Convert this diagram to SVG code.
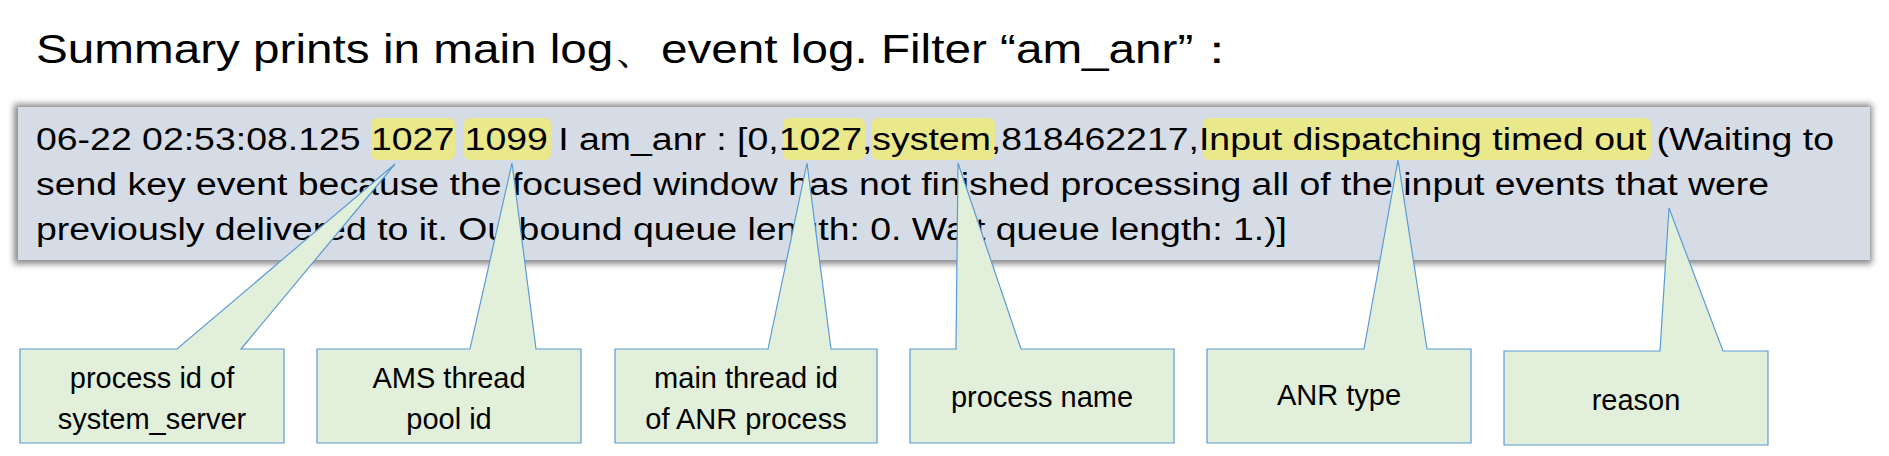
<svg xmlns="http://www.w3.org/2000/svg" width="1889" height="456" viewBox="0 0 1889 456">
<style>
text{font-family:"Liberation Sans",Arial,sans-serif;fill:#000}
.log{font-size:31px}
.lbl{font-size:29px;text-anchor:middle}
.hl{fill:#e9e88a}
.co{fill:#e2efda;stroke:#5b9bd5;stroke-width:1.2}
</style>
<defs><filter id="sh" x="-5%" y="-20%" width="110%" height="140%"><feGaussianBlur stdDeviation="3"/></filter></defs>
<text x="36" y="63" font-size="40" textLength="1205" lengthAdjust="spacingAndGlyphs">Summary prints in main log、event log. Filter “am_anr”：</text>
<g id="logbox">
<rect x="14" y="104" width="1858" height="160" fill="#888" filter="url(#sh)"/>
<rect x="18" y="107" width="1852" height="153" fill="#d6dce5"/>
<rect class="hl" x="371" y="118" width="84" height="42" rx="6"/>
<rect class="hl" x="464" y="118" width="87" height="42" rx="6"/>
<rect class="hl" x="783" y="118" width="82" height="42" rx="6"/>
<rect class="hl" x="872" y="118" width="123" height="42" rx="6"/>
<rect class="hl" x="1203" y="118" width="448" height="42" rx="6"/>
<text class="log" x="36" y="150" textLength="1798" lengthAdjust="spacingAndGlyphs">06-22 02:53:08.125 1027 1099 I am_anr : [0,1027,system,818462217,Input dispatching timed out (Waiting to</text>
<text class="log" x="36" y="195" textLength="1733" lengthAdjust="spacingAndGlyphs">send key event because the focused window has not finished processing all of the input events that were</text>
<text class="log" x="36" y="240" textLength="1251" lengthAdjust="spacingAndGlyphs">previously delivered to it. Outbound queue length: 0. Wait queue length: 1.)]</text>
</g>
<g id="connectors"></g>
<g id="n1"><path class="co" d="M20,349 L177,349 L395,164 L241,349 L284,349 L284,443 L20,443 Z"/>
<text class="lbl" x="152" y="388">process id of</text><text class="lbl" x="152" y="429">system_server</text></g>
<g id="n2"><path class="co" d="M317,349 L470,349 L512,163 L536,349 L581,349 L581,443 L317,443 Z"/>
<text class="lbl" x="449" y="388">AMS thread</text><text class="lbl" x="449" y="429">pool id</text></g>
<g id="n3"><path class="co" d="M615,349 L768,349 L807,163 L831,349 L877,349 L877,443 L615,443 Z"/>
<text class="lbl" x="746" y="388">main thread id</text><text class="lbl" x="746" y="429">of ANR process</text></g>
<g id="n4"><path class="co" d="M910,349 L956,349 L958,163 L1021,349 L1174,349 L1174,443 L910,443 Z"/>
<text class="lbl" x="1042" y="407">process name</text></g>
<g id="n5"><path class="co" d="M1207,349 L1364,349 L1398,160 L1427,349 L1471,349 L1471,443 L1207,443 Z"/>
<text class="lbl" x="1339" y="405">ANR type</text></g>
<g id="n6"><path class="co" d="M1504,351 L1660,351 L1669,208 L1723,351 L1768,351 L1768,445 L1504,445 Z"/>
<text class="lbl" x="1636" y="410">reason</text></g>
</svg>
